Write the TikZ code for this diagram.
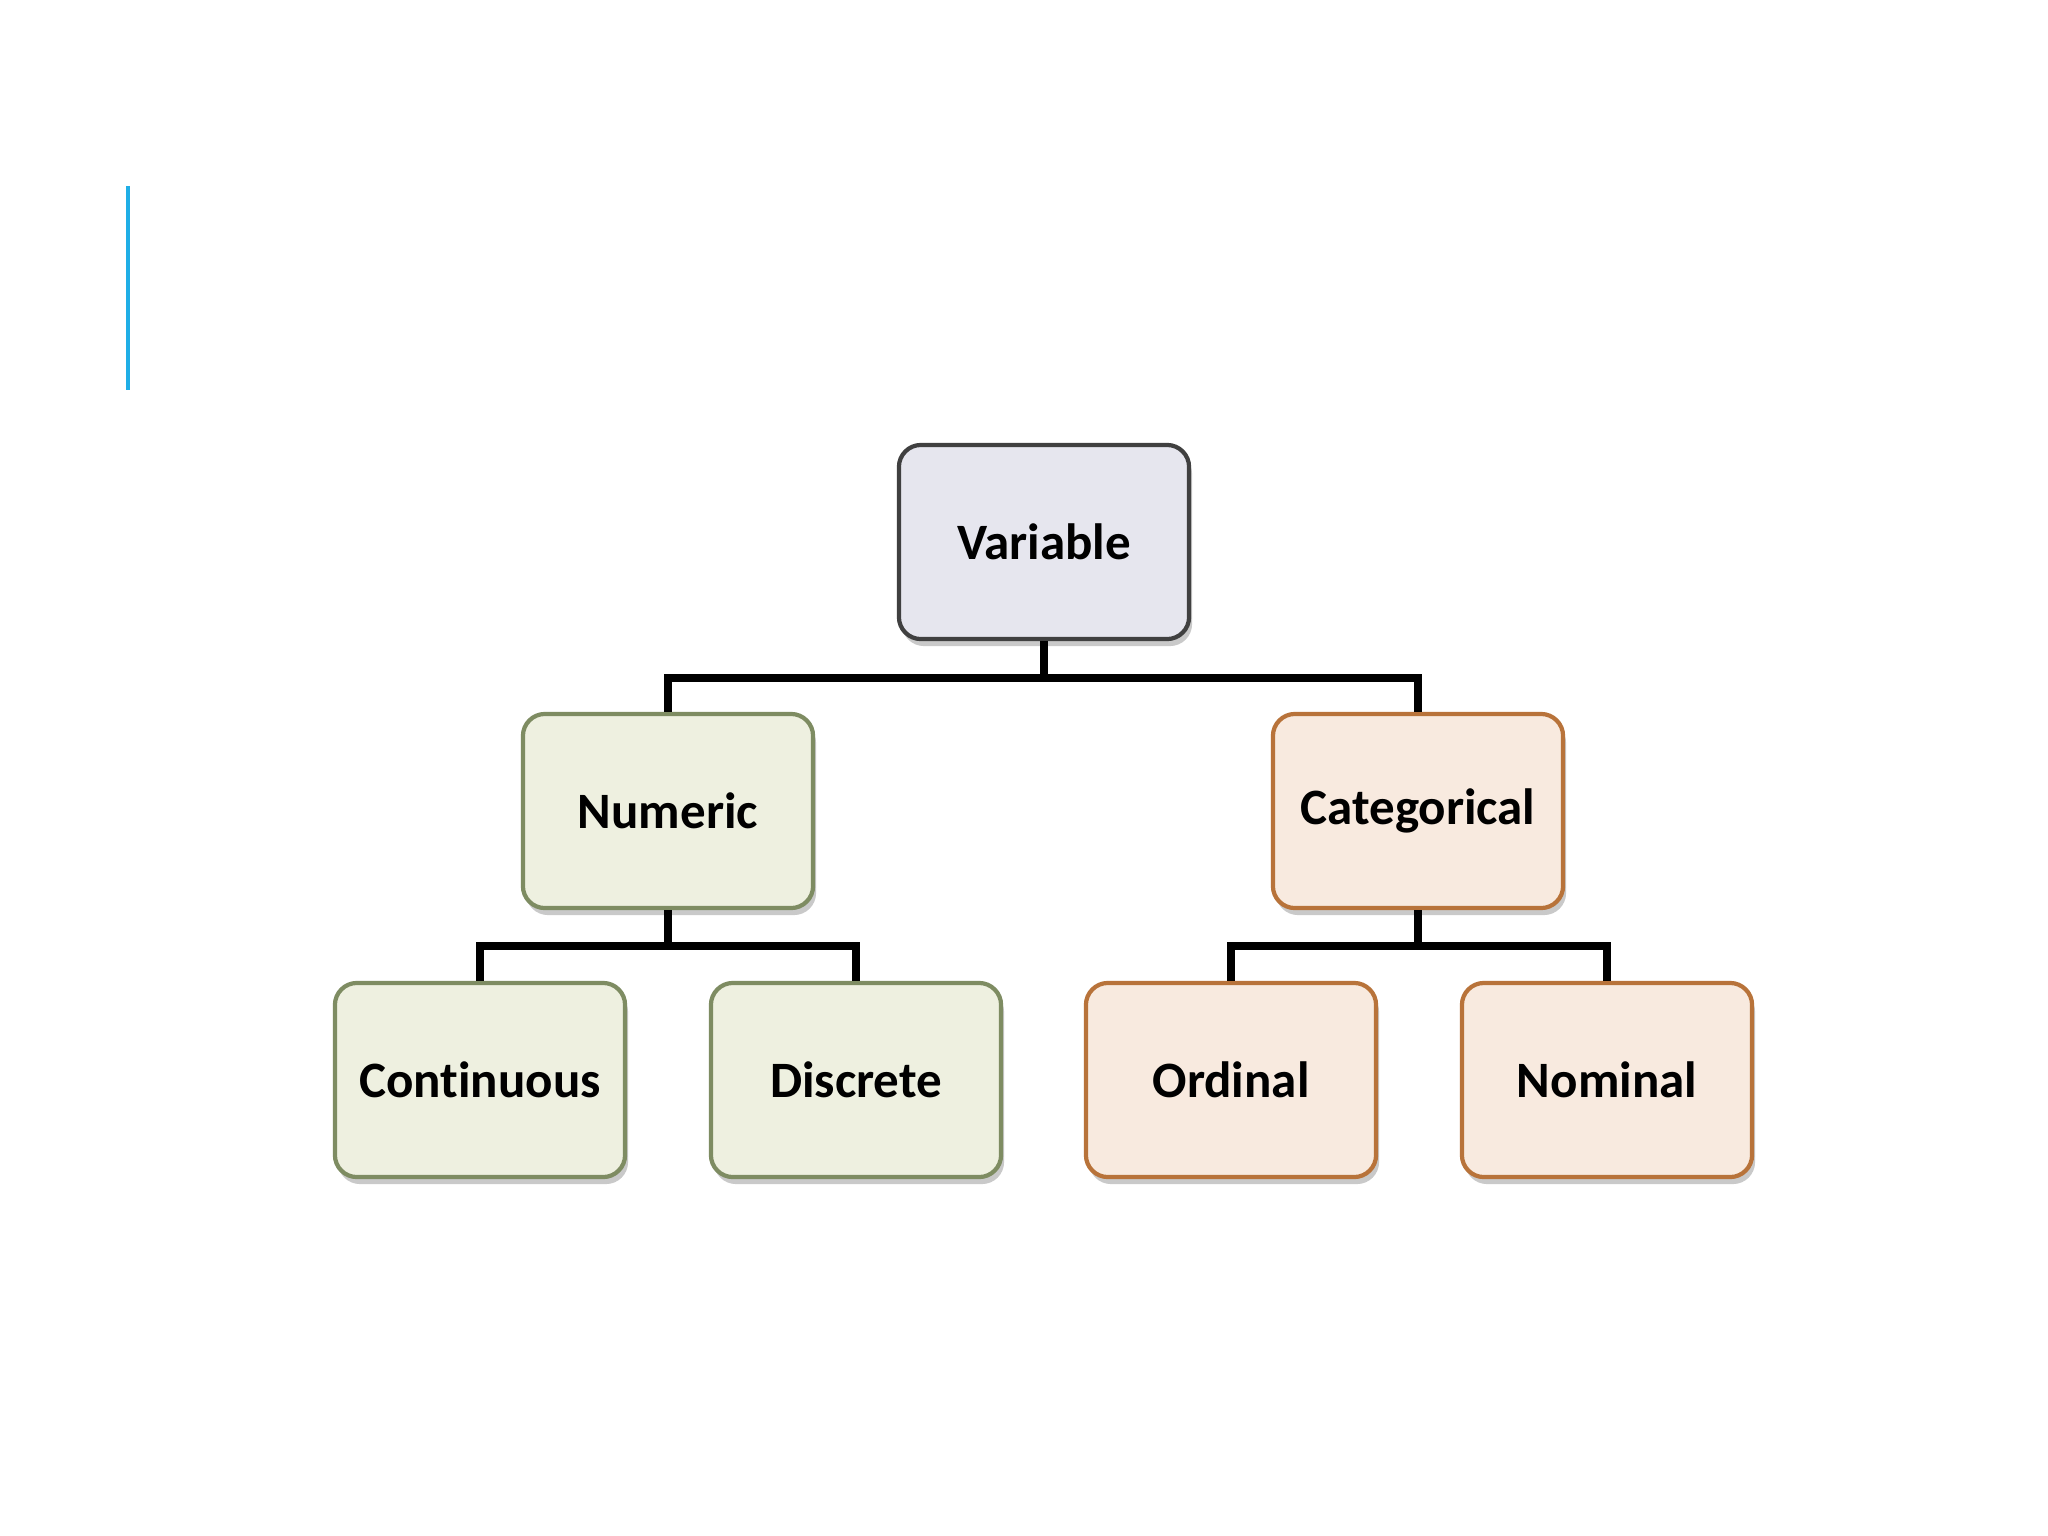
\documentclass[tikz,border=0pt]{standalone}
\usepackage{fontspec}
\setmainfont[Ligatures={NoCommon}]{Carlito}
\usetikzlibrary{shadows}
\definecolor{varfill}{HTML}{E6E6EE}
\definecolor{varline}{HTML}{404040}
\definecolor{numfill}{HTML}{EEF0E0}
\definecolor{numline}{HTML}{7E8C62}
\definecolor{catfill}{HTML}{F8EADF}
\definecolor{catline}{HTML}{B8733A}
\definecolor{accent}{HTML}{1FAEE6}
\tikzset{
  x=0.01cm,y=-0.01cm,
  box/.style={rounded corners=0.22cm, minimum width=2.9cm, minimum height=1.94cm,
    line width=1.2pt, font=\fontsize{14.5}{17}\selectfont\bfseries, text=black,
    drop shadow={shadow xshift=0.03cm, shadow yshift=-0.07cm, opacity=0.35, fill=black!60}},
  varbox/.style={box, draw=varline, fill=varfill},
  numbox/.style={box, draw=numline, fill=numfill},
  catbox/.style={box, draw=catline, fill=catfill},
  conn/.style={line width=2.4pt, black}
}
\begin{document}
\begin{tikzpicture}
\useasboundingbox[fill=white] (0,0) rectangle (2048,1536);
\draw[accent, line width=1.3pt] (128,186) -- (128,390);

\node[varbox] (var) at (1044,542) {Variable};
\node[numbox] (num) at (668,811) {Numeric};
\node[catbox] (cat) at (1418,811) {Categorical};
\node[numbox] (cont) at (480,1080) {Continuous};
\node[numbox] (disc) at (856,1080) {Discrete};
\node[catbox] (ord) at (1231,1080) {Ordinal};
\node[catbox] (nom) at (1607,1080) {Nominal};

\coordinate (b1) at (1044,678);
\coordinate (b2) at (668,946);
\coordinate (b3) at (1418,946);

\draw[conn] (var.south) -- (b1);
\draw[conn] (num.north) |- (b1) -| (cat.north);
\draw[conn] (num.south) -- (b2);
\draw[conn] (cont.north) |- (b2) -| (disc.north);
\draw[conn] (cat.south) -- (b3);
\draw[conn] (ord.north) |- (b3) -| (nom.north);
\end{tikzpicture}
\end{document}
